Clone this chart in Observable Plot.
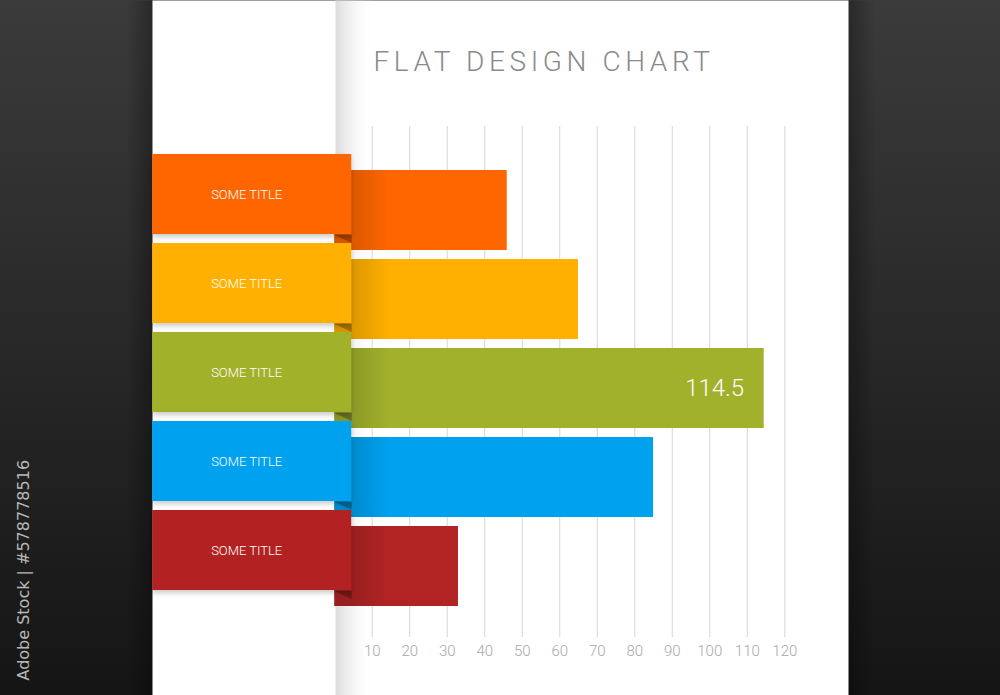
<!DOCTYPE html>
<html>
<head>
<meta charset="utf-8">
<script src="https://cdn.jsdelivr.net/npm/d3@7"></script>
<script src="https://cdn.jsdelivr.net/npm/@observablehq/plot@0.6"></script>
<style>
  html, body { margin: 0; padding: 0; background: #222; }
  #chart svg { display: block; }
</style>
</head>
<body>
<div id="chart"></div>
<script>
// ---- data ----
const ids = ["r1", "r2", "r3", "r4", "r5"];
const titles = ["SOME TITLE", "SOME TITLE", "SOME TITLE", "SOME TITLE", "SOME TITLE"];
const values = [46, 65, 114.5, 85, 33];
const colors = ["#ff6600", "#ffb000", "#a2b12c", "#00a1ef", "#b22424"];
const valueLabels = ["", "", "114.5", "", ""];
const ticks = [10, 20, 30, 40, 50, 60, 70, 80, 90, 100, 110, 120];
const chartTitle = "FLAT DESIGN CHART";
const credit = "Adobe Stock | #578778516";

const data = ids.map((id, i) => ({
  id, title: titles[i], value: values[i], color: colors[i], label: valueLabels[i],
  fold: d3.color(colors[i]).darker(1.3).formatHex()
}));

const foldSymbol = {
  draw(ctx) { ctx.moveTo(0, 24.5); ctx.lineTo(17, 24.5); ctx.lineTo(17, 32.5); ctx.closePath(); }
};

const defsMark = () => {
  const ns = "http://www.w3.org/2000/svg";
  const g = document.createElementNS(ns, "g");
  g.innerHTML = `<defs>
    <linearGradient id="panelShade" gradientUnits="userSpaceOnUse" x1="335" x2="375" y1="0" y2="0">
      <stop offset="0" stop-color="#dcdcdc"/><stop offset="1" stop-color="#ffffff" stop-opacity="0"/>
    </linearGradient>
    <linearGradient id="barShade" gradientUnits="userSpaceOnUse" x1="348" x2="390" y1="0" y2="0">
      <stop offset="0" stop-color="#000" stop-opacity="0.15"/><stop offset="1" stop-color="#000" stop-opacity="0"/>
    </linearGradient>
    <linearGradient id="edgeL" gradientUnits="userSpaceOnUse" x1="125" x2="152" y1="0" y2="0">
      <stop offset="0" stop-color="#000" stop-opacity="0"/><stop offset="1" stop-color="#000" stop-opacity="0.3"/>
    </linearGradient>
    <linearGradient id="edgeR" gradientUnits="userSpaceOnUse" x1="848" x2="875" y1="0" y2="0">
      <stop offset="0" stop-color="#000" stop-opacity="0.3"/><stop offset="1" stop-color="#000" stop-opacity="0"/>
    </linearGradient>
    <filter id="ribbonShadow" x="-10%" y="-20%" width="120%" height="150%">
      <feDropShadow dx="0" dy="3" stdDeviation="2.5" flood-color="#000" flood-opacity="0.2"/>
    </filter>
  </defs>`;
  return g;
};

const chart = Plot.plot({
  width: 1000,
  height: 695,
  marginTop: 0, marginRight: 0, marginBottom: 0, marginLeft: 0,
  style: {
    background: "linear-gradient(#3b3b3b, #151515)",
    fontFamily: "Roboto, 'Liberation Sans', sans-serif"
  },
  x: { domain: [0, 120], range: [334.2, 784.3], axis: null },
  y: { domain: ids, range: [159, 617], padding: 0.1, axis: null },
  color: { type: "identity" },
  marks: [
    defsMark,
    Plot.frame({ fill: "url(#edgeL)", stroke: "none", insetLeft: 125, insetRight: 848 }),
    Plot.frame({ fill: "url(#edgeR)", stroke: "none", insetLeft: 848, insetRight: 125 }),
    Plot.frame({ fill: "white", stroke: "none", insetLeft: 152, insetRight: 152 }),
    Plot.frame({ fill: "url(#panelShade)", stroke: "none", insetLeft: 335, insetRight: 152 }),
    Plot.ruleX(ticks, { x: d => d, insetTop: 126, insetBottom: 58, stroke: "#d6d6d6", strokeWidth: 1 }),
    Plot.text(ticks, {
      x: d => d, text: d => String(d), frameAnchor: "bottom", dy: -40,
      fill: "#a8a8a8", fontSize: 15, fontWeight: 300
    }),
    Plot.text([chartTitle], {
      text: d => d, frameAnchor: "top-left", dx: 373, dy: 62,
      textAnchor: "start", lineAnchor: "middle",
      fill: "#8a8a8a", fontSize: 28, fontWeight: 300, ariaDescription: "chart-title"
    }),
    Plot.barX(data, { x1: 0, x2: "value", y: "id", fill: "color" }),
    Plot.barX(data, { x1: 0, x2: "value", y: "id", fill: "url(#barShade)" }),
    Plot.dot(data, { x: 0, y: "id", symbol: foldSymbol, fill: "fold", stroke: null, r: 5 }),
    Plot.rect(data, {
      x1: 0, x2: 0, y: "id", dy: -16, insetLeft: -182, insetRight: -17,
      fill: "color", ariaDescription: "ribbons"
    }),
    Plot.text(data, {
      x: 0, y: "id", text: "title", dx: -88, dy: -16,
      fill: "white", fontSize: 13, fontWeight: 300
    }),
    Plot.text(data.filter(d => d.label), {
      x: "value", y: "id", text: "label", textAnchor: "end", dx: -20,
      fill: "white", fontSize: 24, fontWeight: 300
    }),
    Plot.text([credit], {
      text: d => d, frameAnchor: "bottom-left", dx: 23, dy: -15, rotate: -90,
      textAnchor: "start", lineAnchor: "middle",
      fill: "#b8b8b8", fontSize: 16, fontFamily: "'DejaVu Sans', sans-serif"
    })
  ]
});

d3.select(chart).selectAll("text")
  .filter(function () { return this.textContent === chartTitle; })
  .attr("letter-spacing", "4.6px");
d3.select(chart).selectAll("g")
  .filter(function () { return this.getAttribute("aria-description") === "ribbons"; })
  .attr("filter", "url(#ribbonShadow)");
document.getElementById("chart").appendChild(chart);
</script>
</body>
</html>
